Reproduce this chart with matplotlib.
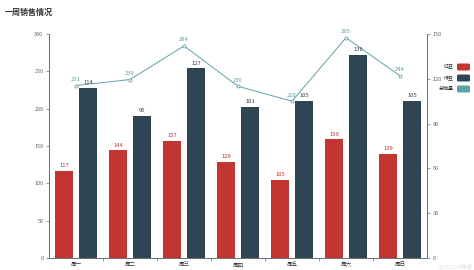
import matplotlib
matplotlib.use("Agg")
import matplotlib.pyplot as plt
import numpy as np
from matplotlib.patches import FancyBboxPatch

plt.rcParams["font.family"] = ["Noto Sans CJK SC", "DejaVu Sans"]

days = ["周一", "周二", "周三", "周四", "周五", "周六", "周日"]
red_bean = [117, 144, 157, 129, 105, 159, 139]
green_bean = [114, 95, 127, 101, 105, 136, 105]
total = [231, 239, 284, 230, 210, 295, 244]
left_ticks = [0, 50, 100, 150, 200, 250, 300]
right_ticks = [0, 30, 60, 90, 120, 150]
legend_names = ["红豆", "绿豆", "总销量"]

RED, DARK, TEAL = "#c23531", "#2f4554", "#61a0a8"
AXIS = "#6e7079"
W, H = 474, 270

fig = plt.figure(figsize=(4.74, 2.70), dpi=100)
ax = fig.add_axes([49 / W, 12 / H, 378 / W, 224 / H])
ax2 = ax.twinx()

x = np.arange(len(days))
off, w = 0.222, 0.333
ax.bar(x - off, red_bean, width=w, color=RED, zorder=2)
ax2.bar(x + off, green_bean, width=w, color=DARK, zorder=2)
ax.plot(x, total, color=TEAL, lw=0.7, marker="o", ms=2.2, mfc="white",
        mec=TEAL, mew=0.6, zorder=5)

for xi, v in zip(x, red_bean):
    ax.annotate(str(v), (xi - off, v), xytext=(0, 2), textcoords="offset points",
                ha="center", va="bottom", fontsize=4.2, color=RED)
for xi, v in zip(x, green_bean):
    ax2.annotate(str(v), (xi + off, v), xytext=(0, 2), textcoords="offset points",
                 ha="center", va="bottom", fontsize=4.2, color=DARK)
for xi, v in zip(x, total):
    ax.annotate(str(v), (xi, v), xytext=(0, 2.5), textcoords="offset points",
                ha="center", va="bottom", fontsize=4.2, color=TEAL)

ax.set_ylim(0, 300)
ax2.set_ylim(0, 150)
ax.set_xlim(-0.5, len(days) - 0.5)
ax.set_yticks(left_ticks)
ax2.set_yticks(right_ticks)
ax.set_xticks(np.arange(len(days) - 1) + 0.5)
ax.set_xticklabels([])
ax.set_xticks(x, minor=True)
ax.set_xticklabels(days, minor=True)
ax.tick_params(axis="x", which="major", length=2.5, width=0.5, color=AXIS)
ax.tick_params(axis="x", which="minor", length=0, pad=3, labelsize=4.0, labelcolor="#333333")
ax.tick_params(axis="y", length=2.5, width=0.5, color=AXIS, labelsize=4.0,
               labelcolor="#666666", pad=1.5)
ax2.tick_params(axis="y", length=2.5, width=0.5, color=AXIS, labelsize=4.0,
                labelcolor="#666666", pad=1.5)

for a in (ax, ax2):
    a.spines["top"].set_visible(False)
    for s in ("left", "right", "bottom"):
        a.spines[s].set_color(AXIS)
        a.spines[s].set_linewidth(0.7)

# legend: label on the left, rounded colour box on the right (echarts style)
for i, (name, col) in enumerate(zip(legend_names, [RED, DARK, TEAL])):
    yc = 67 + i * 11
    fig.add_artist(FancyBboxPatch((457 / W, 1 - (yc + 3.5) / H), 13 / W, 7 / H,
                                  boxstyle="round,pad=0,rounding_size=0.004",
                                  transform=fig.transFigure, color=col, lw=0))
    fig.text(454 / W, 1 - yc / H, name, fontsize=3.6, color="#333333",
             ha="right", va="center")

fig.text(5 / W, 1 - 12 / H, "一周销售情况", fontsize=5.8, fontweight="bold",
         color="#333333", va="center", ha="left")
fig.text(0.998, 0.0, "@51CTO博客", fontsize=4.2, color="#e0e0e0", ha="right", va="bottom")

fig.savefig("out.png", dpi=100)
